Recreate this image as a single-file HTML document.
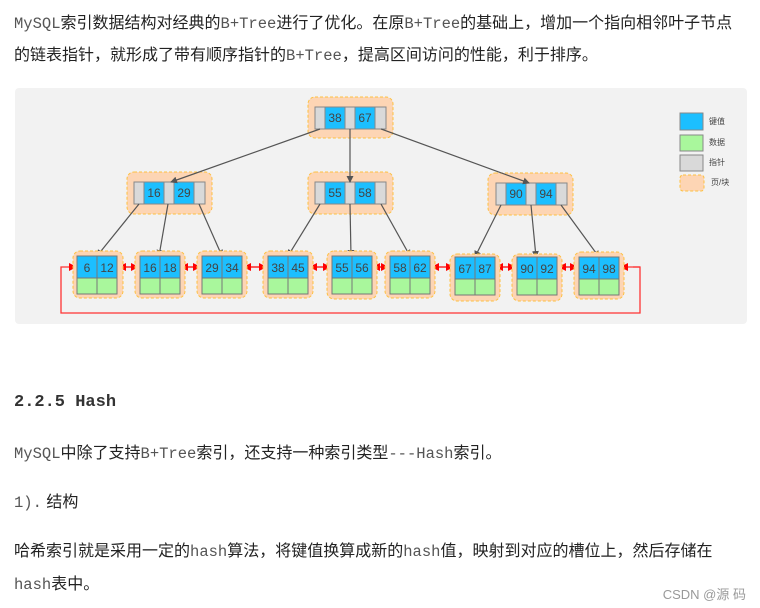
<!DOCTYPE html>
<html><head><meta charset="utf-8"><style>
body{margin:0;width:760px;height:608px;background:#fff;position:relative;overflow:hidden;font-family:"Liberation Sans","Noto Sans CJK SC",sans-serif;color:#222;font-size:16px}
.t{position:absolute;left:14px;white-space:nowrap}
code{font-family:"Liberation Mono",monospace;color:#555;font-size:15.5px}
h3{position:absolute;left:14px;top:393px;margin:0;font-family:"Liberation Mono",monospace;font-size:17px;font-weight:bold;color:#333}
</style></head><body>
<div class="t" style="top:9px"><code>MySQL</code>索引数据结构对经典的<code>B+Tree</code>进行了优化。在原<code>B+Tree</code>的基础上，增加一个指向相邻叶子节点</div>
<div class="t" style="top:41px">的链表指针，就形成了带有顺序指针的<code>B+Tree</code>，提高区间访问的性能，利于排序。</div>
<svg style="position:absolute;left:0;top:0" width="760" height="380" font-family="Liberation Sans,sans-serif">
<defs><marker id="a" markerUnits="userSpaceOnUse" markerWidth="7" markerHeight="7" refX="6" refY="3.5" orient="auto"><path d="M0,0L7,3.5L0,7z" fill="#555"/></marker>
<marker id="r" markerUnits="userSpaceOnUse" markerWidth="8" markerHeight="8" refX="7" refY="4" orient="auto"><path d="M0,0L8,4L0,8z" fill="#f00"/></marker>
<marker id="rs" markerUnits="userSpaceOnUse" markerWidth="8" markerHeight="8" refX="1" refY="4" orient="auto"><path d="M8,0L0,4L8,8z" fill="#f00"/></marker></defs>
<rect x="15" y="88" width="732" height="236" rx="4" fill="#f2f2f2"/>
<g fill="#fdd5b4" stroke="#fdc040" stroke-dasharray="3,2">
<rect x="308" y="97" width="85" height="41" rx="7"/><rect x="127" y="172" width="85" height="42" rx="7"/><rect x="308" y="172" width="85" height="42" rx="7"/><rect x="488" y="173" width="85" height="42" rx="7"/>
</g>
<g stroke="#888" font-size="12" fill="#444" text-anchor="middle">
<g transform="translate(315,107)"><rect width="71" height="22" fill="#d9d9d9"/><rect x="10" width="20" height="22" fill="#1cbfff"/><rect x="40" width="20" height="22" fill="#1cbfff"/><text x="20" y="15" stroke="none" fill="#444">38</text><text x="50" y="15" stroke="none" fill="#444">67</text></g>
<g transform="translate(134,182)"><rect width="71" height="22" fill="#d9d9d9"/><rect x="10" width="20" height="22" fill="#1cbfff"/><rect x="40" width="20" height="22" fill="#1cbfff"/><text x="20" y="15" stroke="none" fill="#444">16</text><text x="50" y="15" stroke="none" fill="#444">29</text></g>
<g transform="translate(315,182)"><rect width="71" height="22" fill="#d9d9d9"/><rect x="10" width="20" height="22" fill="#1cbfff"/><rect x="40" width="20" height="22" fill="#1cbfff"/><text x="20" y="15" stroke="none" fill="#444">55</text><text x="50" y="15" stroke="none" fill="#444">58</text></g>
<g transform="translate(496,183)"><rect width="71" height="22" fill="#d9d9d9"/><rect x="10" width="20" height="22" fill="#1cbfff"/><rect x="40" width="20" height="22" fill="#1cbfff"/><text x="20" y="15" stroke="none" fill="#444">90</text><text x="50" y="15" stroke="none" fill="#444">94</text></g>
</g>
<g stroke="#555" stroke-width="1.2" fill="none" marker-end="url(#a)">
<line x1="320" y1="129" x2="171" y2="182"/><line x1="350" y1="129" x2="350" y2="182"/><line x1="381" y1="129" x2="529" y2="183"/>
<line x1="139" y1="204" x2="97" y2="256"/><line x1="168" y1="204" x2="159" y2="256"/><line x1="199" y1="204" x2="222" y2="256"/>
<line x1="320" y1="204" x2="288" y2="256"/><line x1="350" y1="204" x2="351" y2="256"/><line x1="381" y1="204" x2="410" y2="256"/>
<line x1="501" y1="205" x2="475" y2="257"/><line x1="531" y1="205" x2="536" y2="257"/><line x1="561" y1="205" x2="599" y2="257"/>
</g>
<g stroke="#f33" stroke-width="1.3" fill="none">
<path d="M633,267H640V313H61V267H76" marker-end="url(#r)"/>
<line x1="640" y1="267" x2="621" y2="267" marker-end="url(#r)"/>
</g>
<g stroke="#f00" stroke-width="1.3" marker-end="url(#r)" marker-start="url(#rs)">
<line x1="119" y1="267" x2="138" y2="267"/><line x1="181" y1="267" x2="200" y2="267"/><line x1="244" y1="267" x2="266" y2="267"/><line x1="310" y1="267" x2="330" y2="267"/><line x1="373" y1="267" x2="388" y2="267"/><line x1="432" y1="267" x2="453" y2="267"/><line x1="496" y1="267" x2="515" y2="267"/><line x1="559" y1="267" x2="577" y2="267"/>
</g>
<g font-size="12" text-anchor="middle">
<g fill="#fdd5b4" stroke="#fdc040" stroke-dasharray="3,2">
<rect x="73" y="251" width="50" height="47" rx="7"/><rect x="135" y="251" width="50" height="47" rx="7"/><rect x="197" y="251" width="50" height="47" rx="7"/><rect x="263" y="251" width="50" height="47" rx="7"/><rect x="327" y="251" width="50" height="48" rx="7"/><rect x="385" y="251" width="50" height="47" rx="7"/><rect x="450" y="254" width="50" height="47" rx="7"/><rect x="512" y="254" width="50" height="47" rx="7"/><rect x="574" y="252" width="50" height="47" rx="7"/>
</g>
<g stroke="#777">
<g transform="translate(77,256)"><rect width="40" height="22" fill="#1cbfff"/><rect y="22" width="40" height="16" fill="#a9f79c"/><line x1="20" y1="0" x2="20" y2="38"/><text x="10" y="16" stroke="none" fill="#444">6</text><text x="30" y="16" stroke="none" fill="#444">12</text></g>
<g transform="translate(140,256)"><rect width="40" height="22" fill="#1cbfff"/><rect y="22" width="40" height="16" fill="#a9f79c"/><line x1="20" y1="0" x2="20" y2="38"/><text x="10" y="16" stroke="none" fill="#444">16</text><text x="30" y="16" stroke="none" fill="#444">18</text></g>
<g transform="translate(202,256)"><rect width="40" height="22" fill="#1cbfff"/><rect y="22" width="40" height="16" fill="#a9f79c"/><line x1="20" y1="0" x2="20" y2="38"/><text x="10" y="16" stroke="none" fill="#444">29</text><text x="30" y="16" stroke="none" fill="#444">34</text></g>
<g transform="translate(268,256)"><rect width="40" height="22" fill="#1cbfff"/><rect y="22" width="40" height="16" fill="#a9f79c"/><line x1="20" y1="0" x2="20" y2="38"/><text x="10" y="16" stroke="none" fill="#444">38</text><text x="30" y="16" stroke="none" fill="#444">45</text></g>
<g transform="translate(332,256)"><rect width="40" height="22" fill="#1cbfff"/><rect y="22" width="40" height="16" fill="#a9f79c"/><line x1="20" y1="0" x2="20" y2="38"/><text x="10" y="16" stroke="none" fill="#444">55</text><text x="30" y="16" stroke="none" fill="#444">56</text></g>
<g transform="translate(390,256)"><rect width="40" height="22" fill="#1cbfff"/><rect y="22" width="40" height="16" fill="#a9f79c"/><line x1="20" y1="0" x2="20" y2="38"/><text x="10" y="16" stroke="none" fill="#444">58</text><text x="30" y="16" stroke="none" fill="#444">62</text></g>
<g transform="translate(455,257)"><rect width="40" height="22" fill="#1cbfff"/><rect y="22" width="40" height="16" fill="#a9f79c"/><line x1="20" y1="0" x2="20" y2="38"/><text x="10" y="16" stroke="none" fill="#444">67</text><text x="30" y="16" stroke="none" fill="#444">87</text></g>
<g transform="translate(517,257)"><rect width="40" height="22" fill="#1cbfff"/><rect y="22" width="40" height="16" fill="#a9f79c"/><line x1="20" y1="0" x2="20" y2="38"/><text x="10" y="16" stroke="none" fill="#444">90</text><text x="30" y="16" stroke="none" fill="#444">92</text></g>
<g transform="translate(579,257)"><rect width="40" height="22" fill="#1cbfff"/><rect y="22" width="40" height="16" fill="#a9f79c"/><line x1="20" y1="0" x2="20" y2="38"/><text x="10" y="16" stroke="none" fill="#444">94</text><text x="30" y="16" stroke="none" fill="#444">98</text></g>
</g></g>
<g font-size="8" fill="#444" font-family="Liberation Sans,Noto Sans CJK SC,sans-serif">
<rect x="680" y="113" width="23" height="17" fill="#1cbfff" stroke="#888"/><text x="709" y="124">键值</text>
<rect x="680" y="135" width="23" height="16" fill="#a9f79c" stroke="#888"/><text x="709" y="145">数据</text>
<rect x="680" y="155" width="23" height="16" fill="#d9d9d9" stroke="#888"/><text x="709" y="165">指针</text>
<rect x="680" y="175" width="24" height="16" rx="3" fill="#fdd5b4" stroke="#fdc040" stroke-dasharray="3,2"/><text x="711" y="185">页/块</text>
</g>
</svg>
<h3>2.2.5 Hash</h3>
<div class="t" style="top:439px"><code>MySQL</code>中除了支持<code>B+Tree</code>索引，还支持一种索引类型<code>---Hash</code>索引。</div>
<div class="t" style="top:488px"><code>1).</code> 结构</div>
<div class="t" style="top:537px">哈希索引就是采用一定的<code>hash</code>算法，将键值换算成新的<code>hash</code>值，映射到对应的槽位上，然后存储在</div>
<div class="t" style="top:570px"><code>hash</code>表中。</div>
<div style="position:absolute;right:14px;top:584px;font-size:13px;color:#999">CSDN @源 码</div>
</body></html>
